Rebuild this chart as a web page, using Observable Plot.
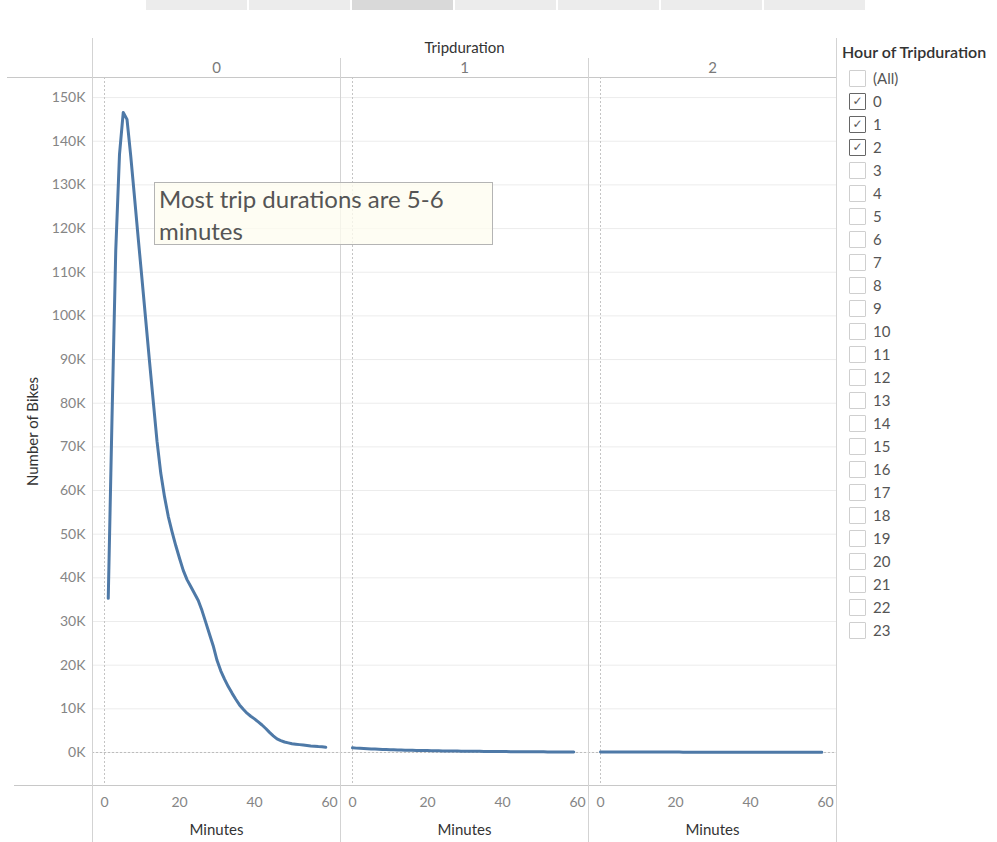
<!DOCTYPE html>
<html>
<head>
<meta charset="utf-8">
<script src="https://cdn.jsdelivr.net/npm/d3@7"></script>
<script src="https://cdn.jsdelivr.net/npm/@observablehq/plot@0.6"></script>
<style>
  html, body { margin: 0; padding: 0; background: #fff; }
  body { font-family: Lato, "Open Sans", sans-serif; }
  #wrap { position: relative; width: 997px; height: 842px; overflow: hidden; }
  #chart { position: absolute; left: 0; top: 0; }
  .ln { position: absolute; background: #d3d3d3; pointer-events: none; }
  .tab { position: absolute; top: 0; height: 10px; background: #ececec; }
  #note { position: absolute; left: 154px; top: 182px; width: 333px; height: 61px;
          border: 1px solid #b4b4b4; background: rgba(254,253,240,0.78);
          font-size: 24px; line-height: 32px; color: #555; padding-left: 4px; box-sizing: content-box; }
  #legend { position: absolute; left: 842px; top: 40px; width: 155px; }
  #legend .title { font-size: 16px; font-weight: 600; color: #333; height: 24px; line-height: 24px; white-space: nowrap; }
  #legend .item { position: absolute; left: 7px; height: 17px; }
  #legend .box { position: absolute; left: 0; top: 0; width: 15px; height: 15px; border: 1px solid #cfcfcf; border-radius: 1px; background: #fff;
                 font-family: "DejaVu Sans", sans-serif; font-size: 12px; line-height: 15px; text-align: center; color: #555; }
  #legend .box.on { border-color: #666; }
  #legend .lab { position: absolute; left: 24px; top: -2px; font-size: 15px; line-height: 20px; color: #555; white-space: nowrap; }
</style>
</head>
<body>
<div id="wrap">
  <div id="chart"></div>
</div>
<script>
// ---------- data ----------
const hours = [0, 1, 2];
const minutes0 = [1,2,3,4,5,6,7,8,9,10,11,12,13,14,15,16,17,18,19,20,21,22,23,24,25,26,27,28,29,30,31,32,33,34,35,36,37,38,39,40,41,42,43,44,45,46,47,48,49,50,51,52,53,54,55,56,57,58,59];
const bikes0 = [35300,76500,115000,137000,146600,145000,136600,127200,117700,108400,99000,89600,80400,71300,64000,58600,54100,50600,47400,44500,41700,39600,38000,36400,34800,32500,29800,27100,24400,21100,18700,16800,15100,13600,12200,10900,9900,9000,8300,7700,7000,6300,5500,4600,3800,3100,2700,2400,2200,2000,1900,1800,1700,1600,1500,1450,1350,1300,1200];
const minutes12 = [0,1,2,3,4,5,6,7,8,9,10,11,12,13,14,15,16,17,18,19,20,21,22,23,24,25,26,27,28,29,30,31,32,33,34,35,36,37,38,39,40,41,42,43,44,45,46,47,48,49,50,51,52,53,54,55,56,57,58,59];
const bikes1 = [1070,1000,950,900,860,820,780,740,700,670,640,610,580,560,540,520,500,480,460,445,430,415,400,385,370,355,340,330,320,310,300,290,280,270,260,250,240,232,225,218,210,203,196,190,184,178,172,166,160,155,150,145,140,135,130,125,120,115,110,105];
const bikes2 = [120,115,112,110,108,106,104,102,100,98,96,95,94,93,92,91,90,89,88,87,86,85,84,83,82,81,80,79,78,77,76,75,74,73,72,71,70,69,68,67,66,65,64,63,62,61,60,60,59,58,57,56,55,55,54,53,52,52,51,50];
const yTicks = [0,10000,20000,30000,40000,50000,60000,70000,80000,90000,100000,110000,120000,130000,140000,150000];
const xTicks = [0, 20, 40, 60];
const legendItems = ["(All)","0","1","2","3","4","5","6","7","8","9","10","11","12","13","14","15","16","17","18","19","20","21","22","23"];
const checkedItems = ["0","1","2"];
const tabs = [[146,247,false],[249,350,false],[352,453,true],[455,556,false],[558,659,false],[661,762,false],[764,865,false]];

const rows = [
  ...minutes0.map((m, i) => ({hour: 0, minute: m, bikes: bikes0[i]})),
  ...minutes12.map((m, i) => ({hour: 1, minute: m, bikes: bikes1[i]})),
  ...minutes12.map((m, i) => ({hour: 2, minute: m, bikes: bikes2[i]}))
];

// ---------- chart ----------
const chart = Plot.plot({
  width: 837,
  height: 842,
  marginLeft: 92,
  marginRight: 1,
  marginTop: 77,
  marginBottom: 57,
  style: {fontFamily: "Lato, 'Open Sans', sans-serif", fontSize: "14px", background: "transparent", overflow: "visible"},
  fx: {domain: hours, padding: 0, axis: null},
  x: {domain: [-3.2, 62.93]},
  y: {domain: [-7560, 154600]},
  marks: [
    Plot.gridY(yTicks, {stroke: "#ececec", strokeOpacity: 1}),
    Plot.ruleY([0], {stroke: "#bdbdbd", strokeDasharray: "2,2"}),
    Plot.ruleX([0], {stroke: "#c4c4c4", strokeDasharray: "2,2"}),
    Plot.axisY(yTicks, {anchor: "left", tickSize: 0, tickPadding: 7, tickFormat: d => d / 1000 + "K", label: null, fill: "#858585", fontSize: 14}),
    Plot.axisX(xTicks, {anchor: "bottom", tickSize: 0, tickPadding: 12, label: null, fill: "#858585", fontSize: 14}),
    Plot.lineY(rows, {fx: "hour", x: "minute", y: "bikes", stroke: "#4e79a7", strokeWidth: 3, strokeLinejoin: "round", strokeLinecap: "round"}),
    Plot.text(hours, {fx: d => d, text: d => String(d), frameAnchor: "top", lineAnchor: "middle", dy: -9, fill: "#7a7a7a", fontSize: 15}),
    Plot.text(hours, {fx: d => d, text: () => "Minutes", frameAnchor: "bottom", lineAnchor: "middle", dy: 45, fill: "#333", fontSize: 15}),
    Plot.text(["Tripduration"], {fx: () => 1, text: d => d, frameAnchor: "top", lineAnchor: "middle", dy: -29, fill: "#333", fontSize: 15}),
    Plot.text(["Number of Bikes"], {fx: () => 0, text: d => d, frameAnchor: "left", textAnchor: "middle", lineAnchor: "middle", dx: -59, rotate: -90, fill: "#333", fontSize: 15})
  ]
});
document.getElementById("chart").appendChild(chart);

// ---------- Tableau chrome (lines, tabs, annotation, filter legend) ----------
const wrap = document.getElementById("wrap");
function line(x, y, w, h, color) {
  const d = document.createElement("div");
  d.className = "ln";
  d.style.left = x + "px"; d.style.top = y + "px"; d.style.width = w + "px"; d.style.height = h + "px";
  if (color) d.style.background = color;
  wrap.appendChild(d);
}
line(7, 77, 830, 1, "#c8c8c8");
line(14, 785, 823, 1, "#c8c8c8");
line(92, 38, 1, 804);
line(340, 58, 1, 784);
line(588, 58, 1, 784);
line(836, 38, 1, 804);

tabs.forEach(([a, b, dark]) => {
  const t = document.createElement("div");
  t.className = "tab";
  t.style.left = a + "px"; t.style.width = (b - a) + "px";
  if (dark) t.style.background = "#d9d9d9";
  wrap.appendChild(t);
});

const note = document.createElement("div");
note.id = "note";
note.innerHTML = "Most trip durations are 5-6<br>minutes";
wrap.appendChild(note);

const legend = document.createElement("div");
legend.id = "legend";
legend.innerHTML = '<div class="title">Hour of Tripduration</div>';
legendItems.forEach((lab, i) => {
  const it = document.createElement("div");
  it.className = "item";
  it.style.top = (30 + i * 23) + "px";
  const on = checkedItems.includes(lab);
  it.innerHTML = '<div class="box' + (on ? ' on' : '') + '">' + (on ? '&#10003;' : '') + '</div><div class="lab">' + lab + '</div>';
  legend.appendChild(it);
});
wrap.appendChild(legend);
</script>
</body>
</html>
